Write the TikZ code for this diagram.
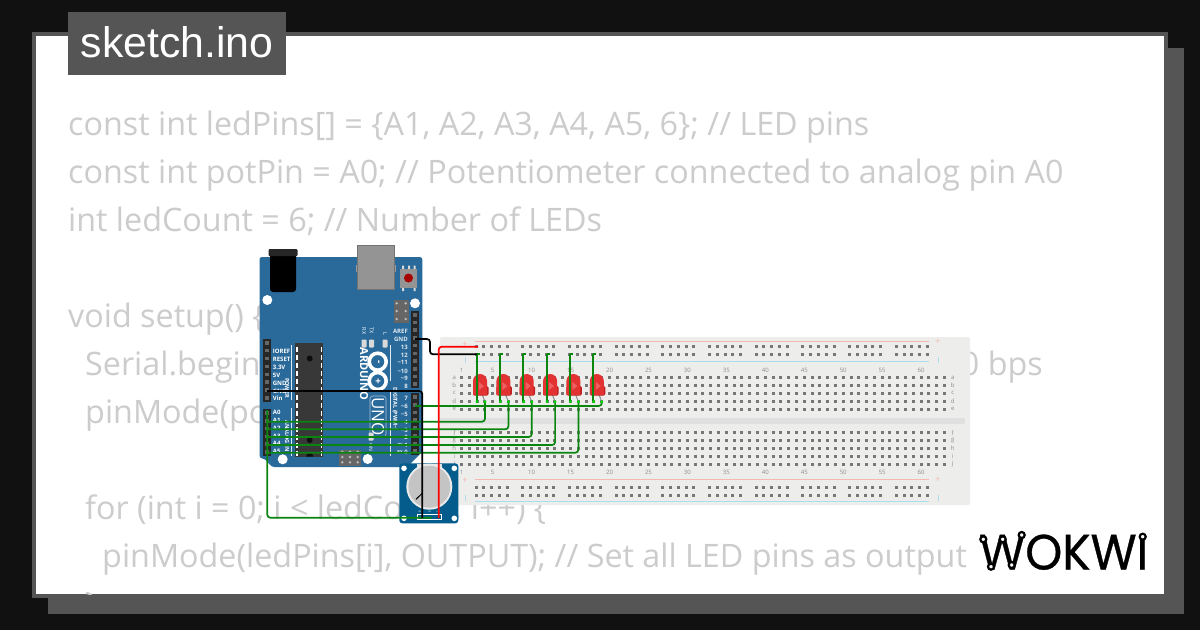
\documentclass[tikz,border=0pt]{standalone}
\usepackage{fontspec}
\setmainfont{Open Sans}
\newfontfamily\tabfont{Liberation Sans}
\newfontfamily\wokfont{Poppins}[FakeBold=0.7]
\usetikzlibrary{calc}
\definecolor{bgdark}{HTML}{111111}
\definecolor{frameg}{HTML}{555555}
\definecolor{codeg}{HTML}{CCCCCC}
\definecolor{unoblue}{HTML}{2A6A9B}
\definecolor{potblue}{HTML}{045C8C}
\definecolor{bbg}{HTML}{EDEDEC}
\definecolor{holeg}{HTML}{777777}
\definecolor{railr}{HTML}{F4B8B0}
\definecolor{railb}{HTML}{ACDDEE}
\definecolor{wgreen}{HTML}{0A860F}
\definecolor{ledred}{HTML}{E23232}
\definecolor{leddark}{HTML}{BE2020}
\definecolor{ledlight}{HTML}{EE6060}
\newcommand{\fs}[1]{\fontsize{#1}{#1}\selectfont}
\tikzset{
 x=1pt,y=-1pt,
 code/.style={anchor=base west,inner sep=0pt,text=codeg,font=\fs{32.3}},
 hole/.style={fill=holeg,draw=none},
 bblab/.style={text=black!45,font=\fs{6},inner sep=0pt},
 unolab/.style={text=white,font=\fs{6}\bfseries,inner sep=0pt},
 wire/.style={line width=1.7pt,rounded corners=3pt},
 wg/.style={wire,draw=wgreen},
 wk/.style={wire,draw=black},
 wr/.style={wire,draw=red},
}
\begin{document}
\begin{tikzpicture}
\useasboundingbox (0,0) rectangle (1200,630);
% page
\fill[bgdark] (0,0) rectangle (1200,630);
\fill[frameg] (48,48) rectangle (1184,614);
\fill[frameg] (32,32) rectangle (1168,598);
\fill[white] (36,36) rectangle (1164,594);
% code
\begin{scope}
\clip (36,36) rectangle (1164,594);
\node[code] (c1) at (68,135) {const int ledPins[] = \{A1, A2, A3, A4, A5, 6\}; // LED pins};
\node[code] (c2) at (68,183) {const int potPin = A0; // Potentiometer connected to analog pin A0};
\node[code] (c3) at (68,231) {int ledCount = 6; // Number of LEDs};
\node[code] (c4) at (68,327) {void setup() \{};
\node[code] (c5) at (85,375) {Serial.begin};
\node[code,anchor=base east] (c5b) at (1043,375) {0 bps};
\node[code] (c6) at (85,423) {pinMode(po};
\node[code] (c7) at (85,519) {for (int i = 0; i < ledCount; i++) \{};
\node[code] (c8) at (102,567) {pinMode(ledPins[i], OUTPUT); // Set all LED pins as output};
\node[code] (c9) at (85,615) {\}};
\end{scope}
% tab
\fill[frameg] (68,12) rectangle (286,75);
\node[anchor=base west,inner sep=0pt,text=white,font=\tabfont\fs{42.8}] (tab) at (80.5,57.3) {sketch.ino};
% breadboard
\fill[bbg,rounded corners=2pt] (440,337) rectangle (970,505);
\fill[black!12] (440,418) rectangle (965,423.5);
\foreach \y/\c in {341.3/railr,479.7/railr,361.7/railb,501.7/railb}
  \draw[\c,line width=.8pt] (475,\y) -- (929,\y);
\foreach \y in {346.7,354.3,487.3,495}
 \foreach \g in {0,...,9}
  \foreach \h in {0,...,4}
   \fill[hole] ({476+46.7*\g+7.79*\h-1.5},\y-1.5) rectangle ++(3,3);
\foreach \y in {377.7,385.4,393.2,401,409,432.7,440.4,448.2,456,464}
 \foreach \c in {1,...,63}
   \fill[hole] ({461.5+7.79*(\c-1)-1.5},\y-1.5) rectangle ++(3,3);
\foreach \n in {1,5,10,15,...,60}{
  \node[bblab] (tn\n) at ({461.5+7.79*(\n-1)},370) {\n};
  \node[bblab] (bn\n) at ({461.5+7.79*(\n-1)},472) {\n};
}
\foreach \l/\y in {a/377.7,b/385.4,c/393.2,d/401,e/409,f/432.7,g/440.4,h/448.2,i/456,j/464}{
  \node[bblab] (ll\l) at (454.3,\y) {\l};
  \node[bblab] (rl\l) at (952.7,\y) {\l};
}
\foreach \x/\yp/\yq in {465/345/481,938/341.5/479.7}{
  \node[text=railr,font=\fs{9},inner sep=0pt] (pa\x) at (\x,\yp) {+};
  \node[text=railr,font=\fs{9},inner sep=0pt] (pb\x) at (\x,\yq) {+};
  \draw[railb,line width=.8pt] (\x,357) -- (\x,363);
  \draw[railb,line width=.8pt] (\x,495) -- (\x,501);
}
% Arduino
\fill[unoblue,rounded corners=2.5pt] (259.5,257) -- (422.3,257) -- (422.3,452) -- (412,462) -- (408,467) -- (272,467) -- (265,459) -- (259.5,458) -- cycle;
\fill[black,rounded corners=3pt] (270,252) rectangle (296,292);
\fill[black!85,rounded corners=1pt] (268.5,249) rectangle (297.5,256);
\fill[black!40] (355.5,265) rectangle (395.5,272);
\fill[black!42,draw=black!55] (357,245) rectangle (394,289);
\fill[white!85!black] (402,265.5) rectangle (404,270) (408,265.5) rectangle (410,270) (413.5,265.5) rectangle (415.5,270) (402,287) rectangle (404,291) (413.5,287) rectangle (415.5,291);
\fill[black!42] (400,269) rectangle (417,288);
\fill[red!65!black] (408.5,278) circle (4.5);
\foreach \p in {(267.3,300),(415,303.3),(282.7,459.3),(367.7,459)}
  \fill[white] \p circle (5);
% icsp
\fill[black!60] (394,300) rectangle (408.5,323);
\foreach \y in {303.3,311,319} \foreach \x in {396.7,405.7} \fill[black!25] (\x,\y) circle (1.3);
\fill[black!60] (339,450) rectangle (361,466);
\foreach \x in {342.3,350,357.7} \foreach \y in {451.7,457,462.3} \fill[black!25] (\x,\y) circle (1.3);
% headers
\foreach \xa/\ya/\yb/\n in {411.3/311/388/10,411.3/393.3/455/8,263.3/339/402/8,263.3/409.3/456/6}{
  \fill[black!85] (\xa,\ya) rectangle (\xa+7.6,\yb);
  \foreach \i in {1,...,\n}
    \fill[black!60] (\xa+2,{\ya+(\i-1)*(\yb-\ya)/\n+2}) rectangle ++(3.6,3.6);
}
% chip
\fill[black!78] (295,342.7) rectangle (323.3,456.7);
\foreach \i in {0,...,13}{
  \fill[white] (296,{347+8*\i}) rectangle ++(1.6,4.5);
  \fill[white] (320.7,{347+8*\i}) rectangle ++(1.6,4.5);
}
\fill[black!95] (309.7,358.5) circle (3) (309.7,440) circle (3);
\fill[black!95] (306,456.7) arc (180:360:3.7) -- cycle;
% labels
\foreach \t/\y in {AREF/331.7,GND/339.7,13/347.7,12/355,{\char`\~ 11}/362.7,{\char`\~ 10}/371,{\char`\~ 9}/378.7,8/386.3,7/398.3,{\char`\~ 6}/406.3,{\char`\~ 5}/414,4/422,{\char`\~ 3}/430,2/437.5,1/445,0/452.5}
  \node[unolab,text=white!85!unoblue,anchor=east] at (408,\y) {\t};
\node[unolab,font=\fs{4}\bfseries,anchor=east] (txl) at (403,445) {TX};
\node[unolab,font=\fs{4}\bfseries,anchor=east] (rxl) at (403,452.5) {RX};
\foreach \t/\y in {IOREF/351.7,RESET/359.7,3.3V/367.7,5V/375.5,GND/383,GND/391,Vin/398.7,A0/412.7,A1/420.5,A2/428,A3/436,A4/443.5,A5/451.3}
  \node[unolab,anchor=west] at (272.7,\y) {\t};
\draw[white!85!unoblue,line width=.6pt] (291,345) -- (291,400) (291,408) -- (291,456) (390,345) -- (390,381) (390,390) -- (390,456);
\node[unolab,rotate=-90,font=\fs{5.5}\bfseries] (pw) at (287,388) {POWER};
\node[unolab,rotate=-90,font=\fs{5.5}\bfseries] (an) at (287,436) {ANALOG IN};
\node[unolab,rotate=-90,font=\fs{5.5}\bfseries] (dg) at (395,409) {DIGITAL (PWM\char`\~)};
\node[unolab,rotate=-90,font=\fs{11}\bfseries] (ard) at (364,374) {ARDUINO};
\draw[white!60!unoblue,line width=.6pt,rounded corners=3pt] (370,396) rectangle (386,437);
\node[unolab,rotate=-90,font=\fs{17}] (uno) at (378,416.5) {UNO};
\draw[white,line width=3.6pt] (377.7,361.7) circle (8.5) (377.7,381) circle (8.5);
\node[unolab,font=\fs{10}\bfseries,rotate=-90] (mn) at (377.7,361.7) {-};
\node[unolab,font=\fs{10}\bfseries,rotate=-90] (pl) at (377.7,381) {+};
\node[unolab,rotate=-90,font=\fs{5.5}] (rx) at (364,331) {RX};
\node[unolab,rotate=-90,font=\fs{5.5}] (tx) at (371.7,331) {TX};
\node[unolab,rotate=-90,font=\fs{5.5}] (ledl) at (385,334) {L};
\node[unolab,rotate=-90,font=\fs{5}] (on) at (371,447) {ON};
\foreach \x/\y in {364/343.5,371.5/343.5,385/343.5,371/436.7}
  \fill[black!15,rounded corners=.8pt] (\x-2.5,\y-4) rectangle (\x+2.5,\y+4);
% LEDs
\foreach \n/\x in {1/480,2/503.4,3/526.7,4/550.1,5/573.4,6/596.8}{
  \draw[black!45,line width=1pt] (\x-3,394) -- (\x-3,401.7);
  \draw[black!45,line width=1pt] (\x+2,394) -- (\x+5,401.7);
  \fill[leddark,rounded corners=1.5pt] (\x-7,386) rectangle (\x+8.5,395.5);
  \fill[ledred] (\x-7,395) -- (\x-7,381) arc (180:360:7) -- (\x+7,395) -- cycle;
  \fill[ledlight] (\x-1,382) -- (\x+4,386) -- (\x-1,390) -- cycle;
  \coordinate (ledk\n) at (\x-3,401.7);
  \coordinate (leda\n) at (\x+5,401.7);
}
% potentiometer
\fill[potblue,rounded corners=3pt] (399.3,463.3) rectangle (458.3,523.3);
\fill[black!12] (417,464) rectangle (442,472);
\fill[black!8] (429.3,486.7) circle (23);
\fill[black!23] (429.3,486.7) circle (21);
\foreach \p in {(404,468.3),(454.3,468.3),(404,518.3),(454.3,518.3)}
  \fill[white] \p circle (2.8);
\draw[white,line width=.8pt] (417.3,514) rectangle (441.7,519.3);
\node[text=white,font=\fs{2},inner sep=0pt] (pg) at (420.5,511.5) {GND};
\node[text=white,font=\fs{2},inner sep=0pt] (ps) at (429.5,511.5) {SIG};
\node[text=white,font=\fs{2},inner sep=0pt] (pv) at (438.5,511.5) {VCC};
\coordinate (ind1) at (416,499.3);
\coordinate (ind2) at (422.3,493.3);
\draw[black,line width=1pt] (ind1) -- (ind2);
% wire ends
\coordinate (pinGa) at (415,339);
\coordinate (pinGb) at (267,391);
\coordinate (pinA0) at (267.3,410);
\coordinate (pin1) at (266.3,421.7);
\coordinate (pin2) at (266.3,429.3);
\coordinate (pin3) at (266.3,437);
\coordinate (pin4) at (266.3,445);
\coordinate (pin5) at (266.3,452.7);
\coordinate (pin6) at (415,406);
\coordinate (railN) at (477,354.3);
\coordinate (railNb) at (478,346.7);
\coordinate (blk) at (430,346);
\coordinate (potG) at (422.3,518);
\coordinate (potS) at (431.7,517.7);
\coordinate (potV) at (438.7,518);
% green wires
\draw[wg] (pinA0) |- (potS);
\draw[wg] (pin1) -| (leda1);
\draw[wg] (pin2) -| (leda2);
\draw[wg] (pin3) -| (leda3);
\draw[wg] (pin4) -| (leda4);
\draw[wg] (pin5) -| (leda5);
\draw[wg] (pin6) -| (leda6);
\foreach \n/\x in {1/476.7,2/500,3/523.3,4/546.7,5/570,6/593.3}{
  \coordinate (rg\n) at (\x,354.3);
  \draw[wg,rounded corners=0pt] (rg\n) -- +(3,0);
  \draw[wg] (rg\n) -- (\x,401.7);
}
\foreach \n in {1,...,6}{
  \fill[green!85!black] (ledk\n) circle (1.6);
  \fill[green!85!black] (leda\n) circle (1.6);
}
% black and red
\draw[wk] (pinGa) -| (blk) |- (railN);
\draw[wk] (pinGb) -| (potG);
\draw[wr] (railNb) -| (potV);
% logo
\node[anchor=base west,inner sep=0pt,text=black,font=\wokfont\fs{50}] (wok) at (979,569.5) {\resizebox{169pt}{35pt}{WOKWI}};
\foreach \p in {(983.3,539.3),(1002.7,539.3),(1021.7,535),(991,566.7),(1011.7,565),(1142.7,536.7)}
  \filldraw[fill=white,draw=black,line width=2.2pt] \p circle (3);
\end{tikzpicture}
\end{document}
